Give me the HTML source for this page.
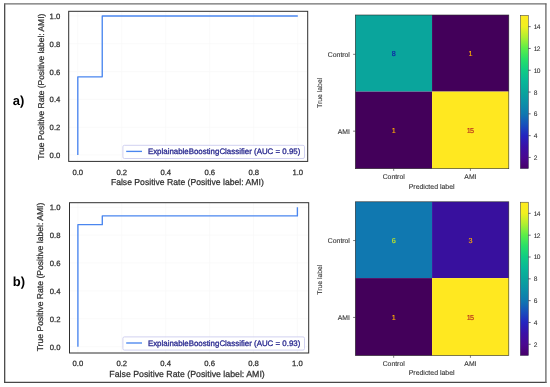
<!DOCTYPE html>
<html><head><meta charset="utf-8"><title>ROC curves and confusion matrices</title>
<style>
html,body{margin:0;padding:0;background:#fff;}
body{width:550px;height:387px;overflow:hidden;}
svg{display:block;font-family:"Liberation Sans",Arial,sans-serif;text-rendering:geometricPrecision;}
</style></head><body>
<svg width="550" height="387" viewBox="0 0 550 387">
<defs><linearGradient id="vir" x1="0" y1="1" x2="0" y2="0"><stop offset="0" stop-color="#48006a"/><stop offset="0.07142857142857142" stop-color="#4a0890"/><stop offset="0.14285714285714285" stop-color="#3a10a6"/><stop offset="0.21428571428571427" stop-color="#2424c0"/><stop offset="0.2857142857142857" stop-color="#1850bc"/><stop offset="0.35714285714285715" stop-color="#1078b0"/><stop offset="0.42857142857142855" stop-color="#0c90a8"/><stop offset="0.5" stop-color="#0aa59c"/><stop offset="0.5714285714285714" stop-color="#08b898"/><stop offset="0.6428571428571429" stop-color="#10cc84"/><stop offset="0.7142857142857143" stop-color="#28e068"/><stop offset="0.7857142857142857" stop-color="#5cee48"/><stop offset="0.8571428571428571" stop-color="#b0f030"/><stop offset="0.9285714285714286" stop-color="#f2f020"/><stop offset="1" stop-color="#ffea20"/></linearGradient></defs>
<rect x="0" y="0" width="550" height="387" fill="#fff"/>
<path d="M4.7,3.4 V382.9" stroke="#3a3a3a" stroke-width="1.2" fill="none"/><path d="M4.1,382.3 H546.5" stroke="#484848" stroke-width="1.2" fill="none"/><path d="M4.1,3.95 H546.5" stroke="#6e6e6e" stroke-width="1.3" fill="none"/><path d="M545.9,3.4 V382.9" stroke="#666" stroke-width="1.3" fill="none"/>
<line x1="77.80" y1="11.3" x2="77.80" y2="161.4" stroke="#f8f8f8" stroke-width="0.7"/>
<line x1="68.7" y1="155.00" x2="307.7" y2="155.00" stroke="#f8f8f8" stroke-width="0.7"/>
<line x1="121.80" y1="11.3" x2="121.80" y2="161.4" stroke="#f8f8f8" stroke-width="0.7"/>
<line x1="68.7" y1="127.20" x2="307.7" y2="127.20" stroke="#f8f8f8" stroke-width="0.7"/>
<line x1="165.80" y1="11.3" x2="165.80" y2="161.4" stroke="#f8f8f8" stroke-width="0.7"/>
<line x1="68.7" y1="99.40" x2="307.7" y2="99.40" stroke="#f8f8f8" stroke-width="0.7"/>
<line x1="209.80" y1="11.3" x2="209.80" y2="161.4" stroke="#f8f8f8" stroke-width="0.7"/>
<line x1="68.7" y1="71.60" x2="307.7" y2="71.60" stroke="#f8f8f8" stroke-width="0.7"/>
<line x1="253.80" y1="11.3" x2="253.80" y2="161.4" stroke="#f8f8f8" stroke-width="0.7"/>
<line x1="68.7" y1="43.80" x2="307.7" y2="43.80" stroke="#f8f8f8" stroke-width="0.7"/>
<line x1="297.80" y1="11.3" x2="297.80" y2="161.4" stroke="#f8f8f8" stroke-width="0.7"/>
<line x1="68.7" y1="16.00" x2="307.7" y2="16.00" stroke="#f8f8f8" stroke-width="0.7"/>
<path d="M77.80,155.00 L77.80,76.81 L102.24,76.81 L102.24,16.00 L297.80,16.00" fill="none" stroke="#4a86ef" stroke-width="1.35" stroke-linejoin="round"/>
<rect x="122.90" y="145.30" width="181.60" height="13.20" rx="1.5" fill="#ffffff" fill-opacity="0.8" stroke="#ccccee" stroke-width="0.9"/>
<line x1="126.20" y1="151.40" x2="142.00" y2="151.40" stroke="#4a86ef" stroke-width="1.35"/>
<text x="147.90" y="154.20" font-size="7.9" fill="#2a2a90" stroke="#2a2a90" stroke-width="0.3">ExplainableBoostingClassifier (AUC = 0.95)</text>
<rect x="68.7" y="11.3" width="239.00" height="150.10" fill="none" stroke="#2e2e2e" stroke-width="1"/>
<text x="77.80" y="174.80" font-size="7.7" text-anchor="middle" fill="#303030" stroke="#303030" stroke-width="0.25">0.0</text>
<text x="60.30" y="158.00" font-size="7.7" text-anchor="end" fill="#303030" stroke="#303030" stroke-width="0.25">0.0</text>
<text x="121.80" y="174.80" font-size="7.7" text-anchor="middle" fill="#303030" stroke="#303030" stroke-width="0.25">0.2</text>
<text x="60.30" y="130.20" font-size="7.7" text-anchor="end" fill="#303030" stroke="#303030" stroke-width="0.25">0.2</text>
<text x="165.80" y="174.80" font-size="7.7" text-anchor="middle" fill="#303030" stroke="#303030" stroke-width="0.25">0.4</text>
<text x="60.30" y="102.40" font-size="7.7" text-anchor="end" fill="#303030" stroke="#303030" stroke-width="0.25">0.4</text>
<text x="209.80" y="174.80" font-size="7.7" text-anchor="middle" fill="#303030" stroke="#303030" stroke-width="0.25">0.6</text>
<text x="60.30" y="74.60" font-size="7.7" text-anchor="end" fill="#303030" stroke="#303030" stroke-width="0.25">0.6</text>
<text x="253.80" y="174.80" font-size="7.7" text-anchor="middle" fill="#303030" stroke="#303030" stroke-width="0.25">0.8</text>
<text x="60.30" y="46.80" font-size="7.7" text-anchor="end" fill="#303030" stroke="#303030" stroke-width="0.25">0.8</text>
<text x="297.80" y="174.80" font-size="7.7" text-anchor="middle" fill="#303030" stroke="#303030" stroke-width="0.25">1.0</text>
<text x="60.30" y="19.00" font-size="7.7" text-anchor="end" fill="#303030" stroke="#303030" stroke-width="0.25">1.0</text>
<text x="187.35" y="184.60" font-size="8.65" text-anchor="middle" fill="#303030" stroke="#303030" stroke-width="0.25">False Positive Rate (Positive label: AMI)</text>
<text transform="translate(43.90,86.70) rotate(-90)" font-size="8.45" text-anchor="middle" fill="#303030" stroke="#303030" stroke-width="0.25">True Positive Rate (Positive label: AMI)</text>
<text x="12.7" y="105.2" font-size="13" font-weight="bold" fill="#000">a)</text>
<line x1="77.90" y1="202.7" x2="77.90" y2="353.0" stroke="#f8f8f8" stroke-width="0.7"/>
<line x1="69.5" y1="346.70" x2="308.7" y2="346.70" stroke="#f8f8f8" stroke-width="0.7"/>
<line x1="121.80" y1="202.7" x2="121.80" y2="353.0" stroke="#f8f8f8" stroke-width="0.7"/>
<line x1="69.5" y1="318.80" x2="308.7" y2="318.80" stroke="#f8f8f8" stroke-width="0.7"/>
<line x1="165.70" y1="202.7" x2="165.70" y2="353.0" stroke="#f8f8f8" stroke-width="0.7"/>
<line x1="69.5" y1="290.90" x2="308.7" y2="290.90" stroke="#f8f8f8" stroke-width="0.7"/>
<line x1="209.60" y1="202.7" x2="209.60" y2="353.0" stroke="#f8f8f8" stroke-width="0.7"/>
<line x1="69.5" y1="263.00" x2="308.7" y2="263.00" stroke="#f8f8f8" stroke-width="0.7"/>
<line x1="253.50" y1="202.7" x2="253.50" y2="353.0" stroke="#f8f8f8" stroke-width="0.7"/>
<line x1="69.5" y1="235.10" x2="308.7" y2="235.10" stroke="#f8f8f8" stroke-width="0.7"/>
<line x1="297.40" y1="202.7" x2="297.40" y2="353.0" stroke="#f8f8f8" stroke-width="0.7"/>
<line x1="69.5" y1="207.20" x2="308.7" y2="207.20" stroke="#f8f8f8" stroke-width="0.7"/>
<path d="M77.90,346.70 L77.90,224.64 L102.29,224.64 L102.29,215.92 L297.40,215.92 L297.40,207.20" fill="none" stroke="#4a86ef" stroke-width="1.35" stroke-linejoin="round"/>
<rect x="122.90" y="336.90" width="181.60" height="13.20" rx="1.5" fill="#ffffff" fill-opacity="0.8" stroke="#ccccee" stroke-width="0.9"/>
<line x1="126.20" y1="343.00" x2="142.00" y2="343.00" stroke="#4a86ef" stroke-width="1.35"/>
<text x="147.90" y="345.80" font-size="7.9" fill="#2a2a90" stroke="#2a2a90" stroke-width="0.3">ExplainableBoostingClassifier (AUC = 0.93)</text>
<rect x="69.5" y="202.7" width="239.20" height="150.30" fill="none" stroke="#2e2e2e" stroke-width="1"/>
<text x="77.90" y="365.90" font-size="7.7" text-anchor="middle" fill="#303030" stroke="#303030" stroke-width="0.25">0.0</text>
<text x="60.50" y="349.70" font-size="7.7" text-anchor="end" fill="#303030" stroke="#303030" stroke-width="0.25">0.0</text>
<text x="121.80" y="365.90" font-size="7.7" text-anchor="middle" fill="#303030" stroke="#303030" stroke-width="0.25">0.2</text>
<text x="60.50" y="321.80" font-size="7.7" text-anchor="end" fill="#303030" stroke="#303030" stroke-width="0.25">0.2</text>
<text x="165.70" y="365.90" font-size="7.7" text-anchor="middle" fill="#303030" stroke="#303030" stroke-width="0.25">0.4</text>
<text x="60.50" y="293.90" font-size="7.7" text-anchor="end" fill="#303030" stroke="#303030" stroke-width="0.25">0.4</text>
<text x="209.60" y="365.90" font-size="7.7" text-anchor="middle" fill="#303030" stroke="#303030" stroke-width="0.25">0.6</text>
<text x="60.50" y="266.00" font-size="7.7" text-anchor="end" fill="#303030" stroke="#303030" stroke-width="0.25">0.6</text>
<text x="253.50" y="365.90" font-size="7.7" text-anchor="middle" fill="#303030" stroke="#303030" stroke-width="0.25">0.8</text>
<text x="60.50" y="238.10" font-size="7.7" text-anchor="end" fill="#303030" stroke="#303030" stroke-width="0.25">0.8</text>
<text x="297.40" y="365.90" font-size="7.7" text-anchor="middle" fill="#303030" stroke="#303030" stroke-width="0.25">1.0</text>
<text x="60.50" y="210.20" font-size="7.7" text-anchor="end" fill="#303030" stroke="#303030" stroke-width="0.25">1.0</text>
<text x="187.05" y="377.20" font-size="8.78" text-anchor="middle" fill="#303030" stroke="#303030" stroke-width="0.25">False Positive Rate (Positive label: AMI)</text>
<text transform="translate(42.80,277.00) rotate(-90)" font-size="8.61" text-anchor="middle" fill="#303030" stroke="#303030" stroke-width="0.25">True Positive Rate (Positive label: AMI)</text>
<text x="12.7" y="286.4" font-size="13" font-weight="bold" fill="#000">b)</text>
<rect x="355.3" y="15.0" width="76.75" height="76.60" fill="#0aa59c"/>
<rect x="432.05" y="15.0" width="76.75" height="76.60" fill="#43005a"/>
<rect x="355.3" y="91.60" width="76.75" height="77.10" fill="#43005a"/>
<rect x="432.05" y="91.60" width="76.75" height="77.10" fill="#ffe820"/>
<rect x="355.3" y="15.0" width="153.50" height="153.70" fill="none" stroke="#2a2a2a" stroke-width="0.6"/>
<text x="393.68" y="55.82" font-size="7.2" letter-spacing="0" text-anchor="middle" fill="#1020a8" stroke="#1020a8" stroke-width="0.15">8</text>
<text x="470.43" y="55.82" font-size="7.2" letter-spacing="0" text-anchor="middle" fill="#ffb000" stroke="#ffb000" stroke-width="0.15">1</text>
<text x="393.68" y="132.67" font-size="7.2" letter-spacing="0" text-anchor="middle" fill="#ffb000" stroke="#ffb000" stroke-width="0.15">1</text>
<text x="470.03" y="132.67" font-size="7.2" letter-spacing="-0.8" text-anchor="middle" fill="#b83020" stroke="#b83020" stroke-width="0.15">15</text>
<line x1="393.68" y1="168.7" x2="393.68" y2="170.89999999999998" stroke="#2a2a2a" stroke-width="0.6"/>
<text x="393.68" y="179.10" font-size="6.85" text-anchor="middle" fill="#363636" stroke="#363636" stroke-width="0.12">Control</text>
<line x1="470.43" y1="168.7" x2="470.43" y2="170.89999999999998" stroke="#2a2a2a" stroke-width="0.6"/>
<text x="470.43" y="179.10" font-size="6.85" text-anchor="middle" fill="#363636" stroke="#363636" stroke-width="0.12">AMI</text>
<line x1="353.1" y1="54.32" x2="355.3" y2="54.32" stroke="#2a2a2a" stroke-width="0.6"/>
<text x="349.90" y="56.82" font-size="6.85" text-anchor="end" fill="#363636" stroke="#363636" stroke-width="0.12">Control</text>
<line x1="353.1" y1="131.17" x2="355.3" y2="131.17" stroke="#2a2a2a" stroke-width="0.6"/>
<text x="349.90" y="133.67" font-size="6.85" text-anchor="end" fill="#363636" stroke="#363636" stroke-width="0.12">AMI</text>
<text x="431.65" y="188.50" font-size="6.95" text-anchor="middle" fill="#363636" stroke="#363636" stroke-width="0.12">Predicted label</text>
<text transform="translate(321.90,92.85) rotate(-90)" font-size="6.85" text-anchor="middle" fill="#363636" stroke="#363636" stroke-width="0.12">True label</text>
<rect x="520.3" y="15.3" width="8.10" height="153.30" fill="url(#vir)" stroke="#33334a" stroke-width="0.5"/>
<line x1="528.4" y1="157.45" x2="530.6999999999999" y2="157.45" stroke="#2a2a40" stroke-width="0.7"/>
<text x="533.80" y="159.90" font-size="6.6" letter-spacing="0" fill="#363636" stroke="#363636" stroke-width="0.12">2</text>
<line x1="528.4" y1="135.65" x2="530.6999999999999" y2="135.65" stroke="#2a2a40" stroke-width="0.7"/>
<text x="533.80" y="138.10" font-size="6.6" letter-spacing="0" fill="#363636" stroke="#363636" stroke-width="0.12">4</text>
<line x1="528.4" y1="113.85" x2="530.6999999999999" y2="113.85" stroke="#2a2a40" stroke-width="0.7"/>
<text x="533.80" y="116.30" font-size="6.6" letter-spacing="0" fill="#363636" stroke="#363636" stroke-width="0.12">6</text>
<line x1="528.4" y1="92.05" x2="530.6999999999999" y2="92.05" stroke="#2a2a40" stroke-width="0.7"/>
<text x="533.80" y="94.50" font-size="6.6" letter-spacing="0" fill="#363636" stroke="#363636" stroke-width="0.12">8</text>
<line x1="528.4" y1="70.25" x2="530.6999999999999" y2="70.25" stroke="#2a2a40" stroke-width="0.7"/>
<text x="533.80" y="72.70" font-size="6.6" letter-spacing="-0.7" fill="#363636" stroke="#363636" stroke-width="0.12">10</text>
<line x1="528.4" y1="48.45" x2="530.6999999999999" y2="48.45" stroke="#2a2a40" stroke-width="0.7"/>
<text x="533.80" y="50.90" font-size="6.6" letter-spacing="-0.7" fill="#363636" stroke="#363636" stroke-width="0.12">12</text>
<line x1="528.4" y1="26.65" x2="530.6999999999999" y2="26.65" stroke="#2a2a40" stroke-width="0.7"/>
<text x="533.80" y="29.10" font-size="6.6" letter-spacing="-0.7" fill="#363636" stroke="#363636" stroke-width="0.12">14</text>
<rect x="355.3" y="201.8" width="76.75" height="76.30" fill="#1078b0"/>
<rect x="432.05" y="201.8" width="76.75" height="76.30" fill="#38109e"/>
<rect x="355.3" y="278.10" width="76.75" height="77.50" fill="#43005a"/>
<rect x="432.05" y="278.10" width="76.75" height="77.50" fill="#ffe820"/>
<rect x="355.3" y="201.8" width="153.50" height="153.80" fill="none" stroke="#2a2a2a" stroke-width="0.6"/>
<text x="393.68" y="242.65" font-size="7.2" letter-spacing="0" text-anchor="middle" fill="#c8e820" stroke="#c8e820" stroke-width="0.15">6</text>
<text x="470.43" y="242.65" font-size="7.2" letter-spacing="0" text-anchor="middle" fill="#ffb000" stroke="#ffb000" stroke-width="0.15">3</text>
<text x="393.68" y="319.55" font-size="7.2" letter-spacing="0" text-anchor="middle" fill="#ffb000" stroke="#ffb000" stroke-width="0.15">1</text>
<text x="470.03" y="319.55" font-size="7.2" letter-spacing="-0.8" text-anchor="middle" fill="#b83020" stroke="#b83020" stroke-width="0.15">15</text>
<line x1="393.68" y1="355.6" x2="393.68" y2="357.8" stroke="#2a2a2a" stroke-width="0.6"/>
<text x="393.68" y="366.00" font-size="6.85" text-anchor="middle" fill="#363636" stroke="#363636" stroke-width="0.12">Control</text>
<line x1="470.43" y1="355.6" x2="470.43" y2="357.8" stroke="#2a2a2a" stroke-width="0.6"/>
<text x="470.43" y="366.00" font-size="6.85" text-anchor="middle" fill="#363636" stroke="#363636" stroke-width="0.12">AMI</text>
<line x1="353.1" y1="240.55" x2="355.3" y2="240.55" stroke="#2a2a2a" stroke-width="0.6"/>
<text x="349.90" y="243.05" font-size="6.85" text-anchor="end" fill="#363636" stroke="#363636" stroke-width="0.12">Control</text>
<line x1="353.1" y1="317.45" x2="355.3" y2="317.45" stroke="#2a2a2a" stroke-width="0.6"/>
<text x="349.90" y="319.95" font-size="6.85" text-anchor="end" fill="#363636" stroke="#363636" stroke-width="0.12">AMI</text>
<text x="431.65" y="375.40" font-size="6.95" text-anchor="middle" fill="#363636" stroke="#363636" stroke-width="0.12">Predicted label</text>
<text transform="translate(321.90,279.70) rotate(-90)" font-size="6.85" text-anchor="middle" fill="#363636" stroke="#363636" stroke-width="0.12">True label</text>
<rect x="520.3" y="202.2" width="8.10" height="153.30" fill="url(#vir)" stroke="#33334a" stroke-width="0.5"/>
<line x1="528.4" y1="344.29" x2="530.6999999999999" y2="344.29" stroke="#2a2a40" stroke-width="0.7"/>
<text x="533.80" y="346.74" font-size="6.6" letter-spacing="0" fill="#363636" stroke="#363636" stroke-width="0.12">2</text>
<line x1="528.4" y1="322.47" x2="530.6999999999999" y2="322.47" stroke="#2a2a40" stroke-width="0.7"/>
<text x="533.80" y="324.92" font-size="6.6" letter-spacing="0" fill="#363636" stroke="#363636" stroke-width="0.12">4</text>
<line x1="528.4" y1="300.65" x2="530.6999999999999" y2="300.65" stroke="#2a2a40" stroke-width="0.7"/>
<text x="533.80" y="303.10" font-size="6.6" letter-spacing="0" fill="#363636" stroke="#363636" stroke-width="0.12">6</text>
<line x1="528.4" y1="278.83" x2="530.6999999999999" y2="278.83" stroke="#2a2a40" stroke-width="0.7"/>
<text x="533.80" y="281.28" font-size="6.6" letter-spacing="0" fill="#363636" stroke="#363636" stroke-width="0.12">8</text>
<line x1="528.4" y1="257.01" x2="530.6999999999999" y2="257.01" stroke="#2a2a40" stroke-width="0.7"/>
<text x="533.80" y="259.46" font-size="6.6" letter-spacing="-0.7" fill="#363636" stroke="#363636" stroke-width="0.12">10</text>
<line x1="528.4" y1="235.19" x2="530.6999999999999" y2="235.19" stroke="#2a2a40" stroke-width="0.7"/>
<text x="533.80" y="237.64" font-size="6.6" letter-spacing="-0.7" fill="#363636" stroke="#363636" stroke-width="0.12">12</text>
<line x1="528.4" y1="213.37" x2="530.6999999999999" y2="213.37" stroke="#2a2a40" stroke-width="0.7"/>
<text x="533.80" y="215.82" font-size="6.6" letter-spacing="-0.7" fill="#363636" stroke="#363636" stroke-width="0.12">14</text>
</svg>
</body></html>
